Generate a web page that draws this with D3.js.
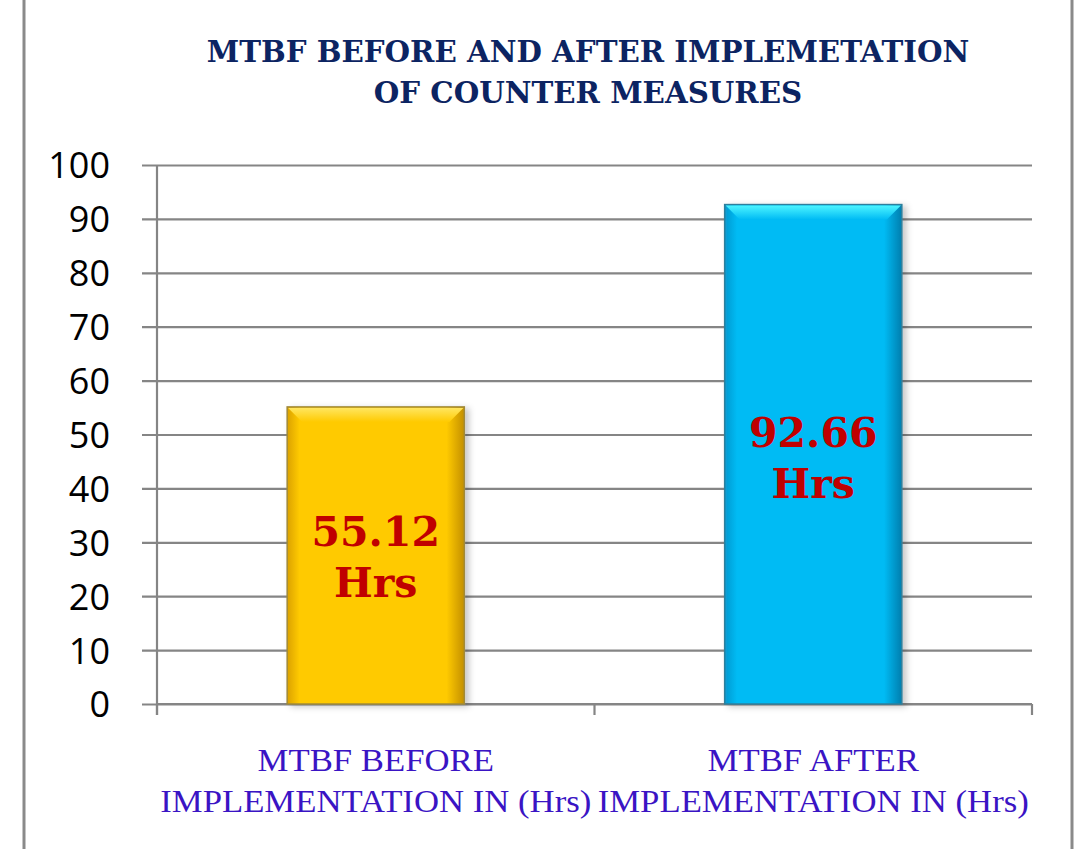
<!DOCTYPE html>
<html>
<head>
<meta charset="utf-8">
<script src="https://cdn.jsdelivr.net/npm/d3@7"></script>
<style>
  html, body { margin: 0; padding: 0; background: #fff; }
  svg { display: block; }
</style>
</head>
<body>
<svg id="chart"></svg>
<script>
// MTBF before / after counter measures (two bevelled bars)
const categories = ["MTBF BEFORE\nIMPLEMENTATION IN (Hrs)", "MTBF AFTER\nIMPLEMENTATION IN (Hrs)"];
const values = [55.12, 92.66];
const valueLabels = ["55.12", "92.66"];
const unitLabel = "Hrs";
const yTicks = [0, 10, 20, 30, 40, 50, 60, 70, 80, 90, 100];
const titleLines = ["MTBF BEFORE AND AFTER IMPLEMETATION", "OF COUNTER MEASURES"];

(function () {
    const W = 1075, H = 849;
    const svg = d3.select("#chart").attr("width", W).attr("height", H);

    const x0 = 157, x1 = 1032, yTop = 165, yBot = 704;
    const x = d3.scaleBand().domain(categories).range([x0, x1]).padding(0);
    const y = d3.scaleLinear().domain([0, 100]).range([yBot, yTop]);
    const barW = x.bandwidth() * 0.405;

    // outer frame (left/right rules)
    svg.append("line").attr("x1", 24).attr("x2", 24).attr("y1", 0).attr("y2", H)
        .attr("stroke", "#8a8a8a").attr("stroke-width", 3);
    svg.append("line").attr("x1", 1072).attr("x2", 1072).attr("y1", 0).attr("y2", H)
        .attr("stroke", "#8a8a8a").attr("stroke-width", 3);

    // title
    svg.append("text")
        .attr("x", 588).attr("y", 62)
        .attr("text-anchor", "middle")
        .attr("font-family", "DejaVu Serif").attr("font-weight", "bold")
        .attr("font-size", 29.3).attr("fill", "#0c2462")
        .selectAll("tspan").data(titleLines).join("tspan")
        .attr("x", 588).attr("dy", (d, i) => i ? 41 : 0)
        .text(d => d);

    // gridlines + y axis
    const yAxis = d3.axisLeft(y).tickValues(yTicks).tickSize(x1 - x0 + 15).tickPadding(32);
    const gy = svg.append("g").attr("transform", `translate(${x1},0)`).call(yAxis);
    gy.select(".domain").remove();
    gy.selectAll(".tick line").attr("stroke", "#858585").attr("stroke-width", 2.2);
    gy.selectAll(".tick text")
        .attr("font-family", "Open Sans").attr("font-size", 36).attr("fill", "#000")
        .attr("dy", "0.36em");

    svg.append("line").attr("x1", x0).attr("x2", x0).attr("y1", yTop).attr("y2", yBot + 11)
        .attr("stroke", "#858585").attr("stroke-width", 2.2);

    // x axis line with boundary ticks
    svg.append("line").attr("x1", x0).attr("x2", x1).attr("y1", yBot).attr("y2", yBot)
        .attr("stroke", "#858585").attr("stroke-width", 2.2);
    const bounds = [x0].concat(categories.map(c => x(c) + x.bandwidth()));
    svg.selectAll(".xtick").data(bounds).join("line")
        .attr("x1", d => d).attr("x2", d => d).attr("y1", yBot).attr("y2", yBot + 11)
        .attr("stroke", "#858585").attr("stroke-width", 2.2);

    // gradients for the bevel look
    const defs = svg.append("defs");
    const palettes = [
        { edge: "#dba200", mid: "#ffca00", hi: "#ffe660", dark: "#c38f00", stroke: "#a08a3a" },
        { edge: "#0898cf", mid: "#00bbf4", hi: "#4cf4ff", dark: "#067eae", stroke: "#2f7f9c" }
    ];
    palettes.forEach((p, i) => {
        const g = defs.append("linearGradient").attr("id", "body" + i);
        [[0, p.edge], [0.07, p.mid], [0.9, p.mid], [1, p.dark]].forEach(s =>
            g.append("stop").attr("offset", s[0]).attr("stop-color", s[1]));
        const t = defs.append("linearGradient").attr("id", "top" + i)
            .attr("x1", 0).attr("y1", 0).attr("x2", 0).attr("y2", 1);
        [[0, p.hi], [1, p.mid]].forEach(s =>
            t.append("stop").attr("offset", s[0]).attr("stop-color", s[1]));
        const sh = defs.append("filter").attr("id", "shadow" + i)
            .attr("x", "-10%").attr("y", "-10%").attr("width", "130%").attr("height", "120%");
        sh.append("feDropShadow").attr("dx", 4).attr("dy", 2).attr("stdDeviation", 3)
            .attr("flood-color", "#000").attr("flood-opacity", 0.22);
    });

    const bars = svg.selectAll(".bar").data(categories).join("g").attr("class", "bar");
    bars.append("rect")
        .attr("x", (d, i) => x(d) + (x.bandwidth() - barW) / 2)
        .attr("y", (d, i) => y(values[i]))
        .attr("width", barW)
        .attr("height", (d, i) => yBot - y(values[i]))
        .attr("fill", (d, i) => `url(#body${i})`)
        .attr("stroke", (d, i) => palettes[i].stroke).attr("stroke-width", 1.5)
        .attr("filter", (d, i) => `url(#shadow${i})`);
    const bev = 15;
    bars.append("path")
        .attr("d", (d, i) => {
            const bx = x(d) + (x.bandwidth() - barW) / 2, by = y(values[i]);
            return `M${bx + 1},${by + 1}L${bx + barW - 1},${by + 1}L${bx + barW - bev},${by + bev}L${bx + bev},${by + bev}Z`;
        })
        .attr("fill", (d, i) => `url(#top${i})`);

    // value labels inside bars (offset below each bar top)
    const labelOffset = [139, 242];
    bars.append("text")
        .attr("x", d => x(d) + x.bandwidth() / 2)
        .attr("y", (d, i) => y(values[i]) + labelOffset[i])
        .attr("text-anchor", "middle")
        .attr("font-family", "DejaVu Serif").attr("font-weight", "bold")
        .attr("font-size", 41).attr("fill", "#c00000")
        .selectAll("tspan").data((d, i) => [valueLabels[i], unitLabel]).join("tspan")
        .attr("x", function () { return d3.select(this.parentNode).attr("x"); })
        .attr("dy", (d, j) => j ? 51 : 0)
        .text(d => d);

    // category labels (slightly widened serif)
    svg.selectAll(".xlab").data(categories).join("text")
        .attr("class", "xlab")
        .attr("transform", d => {
            const cx = x(d) + x.bandwidth() / 2;
            return `translate(${cx},0) scale(1.12,1) translate(${-cx},0)`;
        })
        .attr("x", d => x(d) + x.bandwidth() / 2)
        .attr("y", 771)
        .attr("text-anchor", "middle")
        .attr("font-family", "Liberation Serif").attr("font-size", 31).attr("fill", "#3a14c4")
        .selectAll("tspan").data(d => d.split("\n")).join("tspan")
        .attr("x", function () { return d3.select(this.parentNode).attr("x"); })
        .attr("dy", (d, j) => j ? 41 : 0)
        .text(d => d);
})();
</script>
</body>
</html>
